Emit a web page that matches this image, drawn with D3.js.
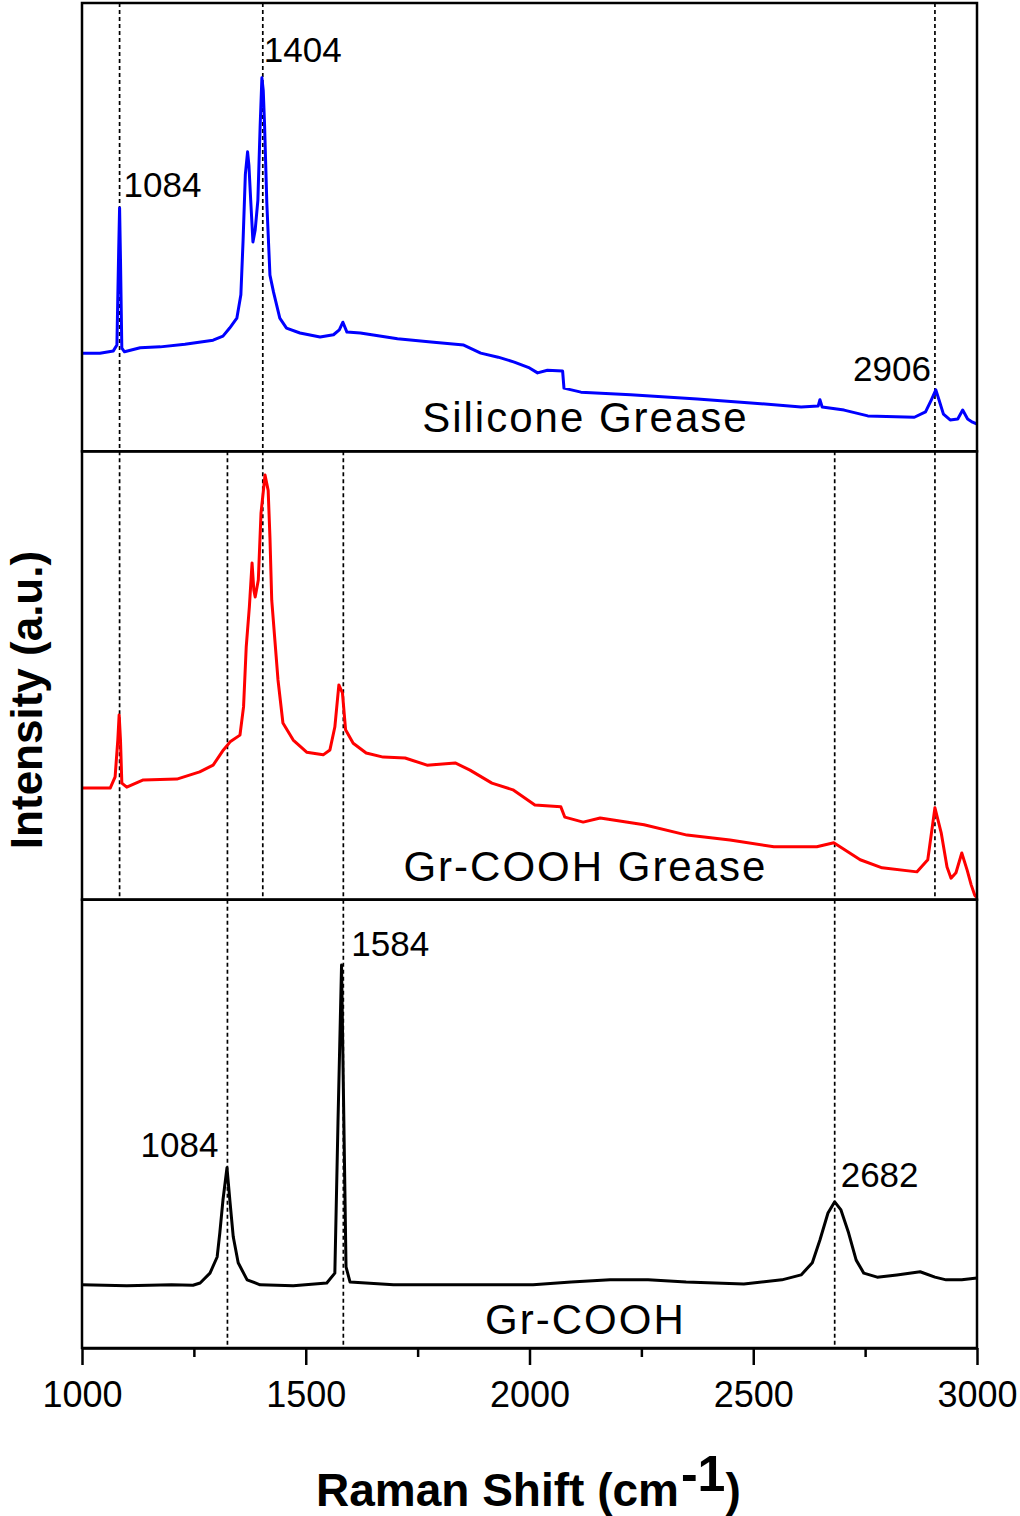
<!DOCTYPE html>
<html>
<head>
<meta charset="utf-8">
<script src="https://cdn.jsdelivr.net/npm/d3@7"></script>
<style>
  body { margin: 0; background: #fff; }
  text { font-family: Arial, 'Liberation Sans', sans-serif; fill: #000; }
</style>
</head>
<body>
<div id="chart"></div>
<script>
// spectra, intensity as % of each panel's height
const siliconeShift = [1000, 1040, 1070, 1078, 1082, 1084, 1086, 1089, 1095, 1130, 1175, 1230, 1293, 1315, 1330, 1346, 1355, 1360, 1365, 1370, 1373, 1377, 1382, 1387, 1393, 1398, 1402, 1405, 1408, 1413, 1420, 1428, 1442, 1457, 1487, 1532, 1562, 1575, 1583, 1592, 1622, 1705, 1780, 1853, 1891, 1930, 1966, 2000, 2018, 2040, 2074, 2077, 2115, 2226, 2375, 2495, 2607, 2645, 2649, 2654, 2703, 2756, 2860, 2885, 2898, 2908, 2915, 2925, 2940, 2957, 2968, 2979, 2990, 3000]
const siliconeIntensity = [21.9, 21.9, 22.4, 23.7, 44.9, 54.3, 42.7, 23.0, 22.2, 23.1, 23.3, 23.9, 24.8, 25.7, 27.5, 29.7, 34.9, 47.1, 61.7, 66.8, 63.8, 56.0, 46.7, 49.4, 56.0, 72.3, 83.3, 80.5, 72.7, 55.4, 39.3, 35.5, 29.7, 27.5, 26.4, 25.5, 26.0, 27.1, 28.8, 26.6, 26.4, 25.1, 24.4, 23.7, 21.9, 21.0, 19.9, 18.6, 17.5, 18.1, 17.9, 14.1, 13.2, 12.6, 11.7, 10.8, 9.9, 10.1, 11.5, 9.9, 9.2, 7.9, 7.6, 8.8, 11.5, 13.7, 11.5, 8.3, 7.0, 7.2, 9.2, 7.2, 6.5, 6.1]

const greaseShift = [1000, 1063, 1074, 1080, 1083, 1086, 1089, 1100, 1137, 1212, 1263, 1293, 1316, 1331, 1353, 1361, 1367, 1374, 1380, 1384, 1387, 1394, 1400, 1409, 1416, 1420, 1424, 1431, 1438, 1449, 1472, 1502, 1539, 1554, 1565, 1574, 1582, 1589, 1606, 1635, 1673, 1722, 1771, 1834, 1867, 1916, 1963, 2012, 2070, 2079, 2120, 2158, 2256, 2352, 2448, 2546, 2642, 2680, 2739, 2788, 2866, 2890, 2906, 2920, 2933, 2942, 2953, 2966, 2978, 2987, 2995, 3000]
const greaseIntensity = [24.9, 24.9, 27.4, 35.6, 41.2, 35.6, 26.0, 25.1, 26.7, 26.9, 28.5, 30.0, 33.4, 35.2, 36.7, 43.0, 56.4, 65.3, 75.1, 69.0, 67.5, 71.3, 86.2, 94.7, 91.3, 80.8, 66.8, 57.9, 49.0, 39.4, 35.6, 32.9, 32.3, 33.4, 38.5, 47.9, 46.1, 37.9, 34.9, 32.7, 31.8, 31.6, 30.0, 30.5, 28.9, 26.0, 24.5, 21.1, 20.7, 18.4, 17.3, 18.2, 16.7, 14.4, 13.3, 11.8, 11.8, 12.7, 8.9, 7.1, 6.2, 8.9, 20.5, 14.9, 7.3, 4.8, 6.0, 10.4, 6.6, 3.3, 1.0, 0.4]

const grapheneShift = [1000, 1100, 1200, 1248, 1264, 1286, 1302, 1308, 1315, 1324, 1331, 1338, 1349, 1369, 1398, 1472, 1547, 1565, 1572, 1580, 1586, 1590, 1599, 1696, 1838, 2008, 2093, 2180, 2265, 2350, 2479, 2564, 2607, 2632, 2649, 2667, 2682, 2696, 2713, 2730, 2747, 2777, 2821, 2873, 2906, 2931, 2966, 3000]
const grapheneIntensity = [14.1, 13.9, 14.1, 14.0, 14.5, 16.7, 20.3, 25.7, 33.0, 40.2, 32.3, 24.8, 19.0, 15.2, 14.1, 13.9, 14.5, 16.7, 50.2, 85.4, 44.8, 18.1, 14.7, 14.1, 14.1, 14.1, 14.7, 15.2, 15.2, 14.7, 14.3, 15.2, 16.3, 19.0, 24.1, 30.1, 32.6, 30.8, 25.7, 19.6, 16.7, 15.8, 16.3, 17.0, 15.8, 15.2, 15.2, 15.6]

const sampleNames = ['Silicone Grease', 'Gr-COOH Grease', 'Gr-COOH']

// dotted guide lines in each panel (cm-1)
const guideLines = [
  [1084, 1404, 2906],
  [1084, 1325, 1404, 1584, 2682, 2906],
  [1325, 1584, 2682]
]

// peak annotations: panel index, text, guide line it sits by
const peakLabels = [
  { panel: 0, text: '1084', shift: 1084 },
  { panel: 0, text: '1404', shift: 1404 },
  { panel: 0, text: '2906', shift: 2906 },
  { panel: 2, text: '1584', shift: 1584 },
  { panel: 2, text: '1084', shift: 1325 },
  { panel: 2, text: '2682', shift: 2682 }
]

const majorTicks = [1000, 1500, 2000, 2500, 3000]
const minorTicks = [1250, 1750, 2250, 2750]

// ----- layout -----
const width = 1020
const height = 1516
const margin = { top: 3, right: 43, bottom: 168, left: 82 }
const plotWidth = width - margin.left - margin.right
const plotHeight = height - margin.top - margin.bottom
const panelHeight = plotHeight / 3

const colors = ['#0000ff', '#ff0000', '#000000']
const series = [
  d3.zip(siliconeShift, siliconeIntensity),
  d3.zip(greaseShift, greaseIntensity),
  d3.zip(grapheneShift, grapheneIntensity)
]

// where each peak label goes: anchor, dx from guide line, baseline below panel top
const labelPlacement = [
  { anchor: 'start', dx: 4, y: 194 },
  { anchor: 'start', dx: 1, y: 59 },
  { anchor: 'end', dx: -4, y: 378 },
  { anchor: 'start', dx: 8, y: 56 },
  { anchor: 'end', dx: -9, y: 257 },
  { anchor: 'start', dx: 6, y: 287 }
]
const nameBaseline = [19, 19, 14]

const xScale = d3.scaleLinear().domain([1000, 3000]).range([0, plotWidth])
const yScale = d3.scaleLinear().domain([0, 100]).range([panelHeight, 0])

const svg = d3.select('#chart').append('svg')
  .attr('width', width)
  .attr('height', height)

const g = svg.append('g').attr('transform', `translate(${margin.left} ${margin.top})`)

const line = d3.line()
  .x(d => xScale(d[0]))
  .y(d => yScale(d[1]))

series.forEach((data, i) => {
  const panel = g.append('g')
    .attr('class', 'panel')
    .attr('transform', `translate(0 ${i * panelHeight})`)

  panel.selectAll('.guide')
    .data(guideLines[i])
    .enter().append('line')
    .attr('class', 'guide')
    .attr('x1', d => xScale(d))
    .attr('x2', d => xScale(d))
    .attr('y1', 0)
    .attr('y2', panelHeight)
    .attr('stroke', '#000')
    .attr('stroke-width', 1.7)
    .attr('stroke-dasharray', '4,3')

  panel.append('path')
    .datum(data)
    .attr('d', line)
    .attr('fill', 'none')
    .attr('stroke', colors[i])
    .attr('stroke-width', 3)
    .attr('stroke-linejoin', 'round')

  panel.append('rect')
    .attr('width', plotWidth)
    .attr('height', panelHeight)
    .attr('fill', 'none')
    .attr('stroke', '#000')
    .attr('stroke-width', 2.5)

  panel.append('text')
    .attr('x', xScale(2125))
    .attr('y', panelHeight - nameBaseline[i])
    .attr('text-anchor', 'middle')
    .style('font-size', '42px')
    .style('letter-spacing', '2px')
    .text(sampleNames[i])
})

// peak labels
peakLabels.forEach((d, i) => {
  const p = labelPlacement[i]
  g.append('text')
    .attr('x', xScale(d.shift) + p.dx)
    .attr('y', d.panel * panelHeight + p.y)
    .attr('text-anchor', p.anchor)
    .style('font-size', '35px')
    .text(d.text)
})

// x axis: major ticks with labels, minor ticks without
const xAxis = g.append('g')
  .attr('transform', `translate(0 ${plotHeight})`)
  .call(d3.axisBottom(xScale).tickValues(majorTicks).tickSize(17).tickSizeOuter(0).tickFormat(d3.format('d')))

xAxis.select('.domain').attr('stroke-width', 2.5)
xAxis.selectAll('.tick line').attr('stroke-width', 2.5)
xAxis.selectAll('.tick text')
  .attr('y', 59)
  .attr('dy', 0)
  .style('font-size', '36px')
  .style('font-family', "Arial, 'Liberation Sans', sans-serif")

const minorAxis = g.append('g')
  .attr('transform', `translate(0 ${plotHeight})`)
  .call(d3.axisBottom(xScale).tickValues(minorTicks).tickSize(9).tickSizeOuter(0).tickFormat(''))
minorAxis.select('.domain').remove()
minorAxis.selectAll('.tick line').attr('stroke-width', 2.5)

// axis titles
const xTitle = svg.append('text')
  .attr('x', 316)
  .attr('y', 1506)
  .style('font-size', '46px')
  .style('font-weight', 'bold')
xTitle.append('tspan').text('Raman Shift (cm')
xTitle.append('tspan').attr('dx', 2).attr('dy', -15).style('font-size', '50px').text('-1')
xTitle.append('tspan').attr('dy', 15).text(')')

svg.append('text')
  .attr('transform', `translate(42 ${700}) rotate(-90)`)
  .attr('text-anchor', 'middle')
  .style('font-size', '44px')
  .style('font-weight', 'bold')
  .text('Intensity (a.u.)')
</script>
</body>
</html>
